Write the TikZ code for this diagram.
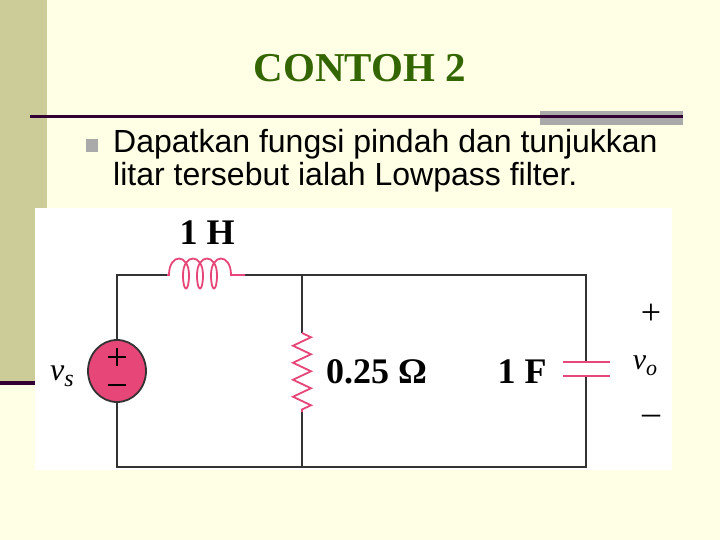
\documentclass[tikz,border=0pt]{standalone}
\usepackage{fontspec}
\setmainfont{Liberation Serif}
\newfontfamily\sansf{Liberation Sans}
\usetikzlibrary{decorations.pathmorphing,shapes.geometric}
\definecolor{bg}{RGB}{255,255,230}
\definecolor{band}{RGB}{204,204,153}
\definecolor{dk}{RGB}{51,0,51}
\definecolor{ttl}{RGB}{51,102,0}
\definecolor{pk}{RGB}{230,70,120}
\definecolor{gr}{RGB}{170,170,170}
\tikzset{wire/.style={line width=1.8pt,black!80},comp/.style={line width=1.8pt,pk},
lbl/.style={font=\bfseries\fontsize{36}{38}\selectfont,inner sep=0}}
\begin{document}
\begin{tikzpicture}[x=1pt,y=-1pt]
\useasboundingbox (0,0) rectangle (720,540);
\fill[bg] (0,0) rectangle (720,540);
\fill[band] (0,0) rectangle (47,385);
\fill[dk] (0,381) rectangle (36,385);
\node[font=\bfseries\fontsize{41}{44}\selectfont,text=ttl] (t) at (360,68) {CONTOH 2};
\fill[gr] (540,111) rectangle (683,125);
\draw[dk,line width=3pt] (30,117) -- (683,117);
\fill[gr] (86,139) rectangle (98,152);
\node[anchor=base west,font=\sansf\fontsize{32}{34}\selectfont,inner sep=0] (l1) at (113,153) {Dapatkan fungsi pindah dan tunjukkan};
\node[anchor=base west,font=\sansf\fontsize{32}{34}\selectfont,inner sep=0] (l2) at (113,186) {litar tersebut ialah Lowpass filter.};
\fill[white] (35,208) rectangle (672,470);
\coordinate (tl) at (117,275); \coordinate (li) at (167,275); \coordinate (ro) at (245,275);
\coordinate (tm) at (302,275); \coordinate (tr) at (586,275);
\coordinate (bl) at (117,467); \coordinate (bm) at (302,467); \coordinate (br) at (586,467);
\coordinate (rt) at (302,333); \coordinate (rb) at (302,412);
\coordinate (ct) at (586,362); \coordinate (cb) at (586,376);
\node[ellipse,draw=black!80,line width=1.8pt,fill=pk,minimum width=58pt,minimum height=62pt,inner sep=0] (src) at (117,371) {};
\draw[wire] (src.north) -- (tl) -- (li);
\draw[wire] (ro) -- (tm) -- (tr) -- (ct);
\draw[wire] (tm) -- (rt);
\draw[wire] (rb) -- (bm);
\draw[wire] (src.south) -- (bl) -- (br) -- (cb);
\draw[comp] (li) -- ++(2,0) .. controls +(0,-22) and +(0,-22) .. ++(20,0)
  \foreach \i in {1,2,3}{ .. controls +(0,18) and +(0,18) .. ++(-6,0) .. controls +(0,-22) and +(0,-22) .. ++(20,0) } -- (ro);
\draw[comp,decorate,decoration={zigzag,segment length=17pt,amplitude=9pt}] (rt) -- (rb);
\draw[comp] (563,362) -- (610,362) (563,376) -- (610,376);
\draw[black,line width=2pt] (117,348) -- (117,366) (108,357) -- (126,357) (108,385) -- (126,385);
\node[lbl] (L) at (207,233) {1 H};
\node[lbl,anchor=west] (R) at (326,372) {0.25 Ω};
\node[lbl] (C) at (522,372) {1 F};
\node[font=\itshape\fontsize{32}{34}\selectfont,inner sep=0] (vs) at (62,376) {v\raisebox{-6pt}{\fontsize{24}{26}\selectfont s}};
\node[font=\itshape\fontsize{30}{32}\selectfont,inner sep=0] (vo) at (645,366) {v\raisebox{-6pt}{\fontsize{22}{24}\selectfont o}};
\node[font=\fontsize{36}{38}\selectfont,inner sep=0] (p) at (651,314) {+};
\node[font=\fontsize{36}{38}\selectfont,inner sep=0] (m) at (651,420) {\textendash};
\end{tikzpicture}
\end{document}
